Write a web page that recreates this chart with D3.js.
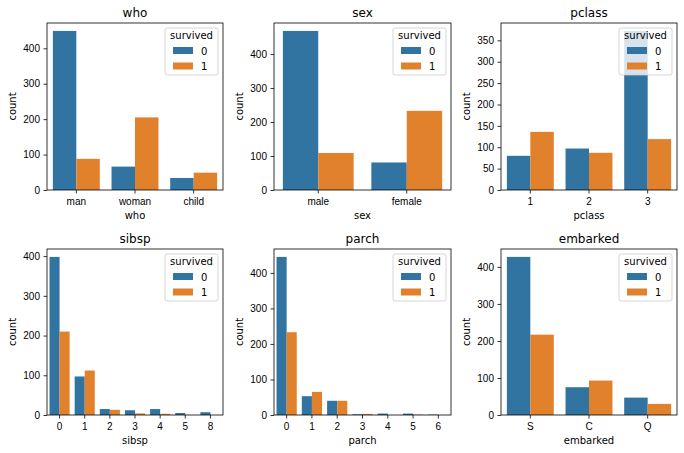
<!DOCTYPE html>
<html>
<head>
<meta charset="utf-8">
<script src="https://cdn.jsdelivr.net/npm/d3@7"></script>
<style>
  body { margin: 0; background: #fff; }
  svg { display: block; font-family: 'DejaVu Sans', sans-serif; }
  .tick text { font-size: 10px; fill: #000; }
  .tick line, .domain { stroke: #000; stroke-width: 0.8; }
</style>
</head>
<body>
<svg width="684" height="453"></svg>
<script>
// titanic counts per feature, split by survived (0 / 1)
const hues = ['0', '1']
const hueColors = ['#3274a1', '#e1812c']

const whoCats = ['man', 'woman', 'child']
const whoDied = [449, 66, 34]
const whoSurv = [88, 205, 49]

const sexCats = ['male', 'female']
const sexDied = [468, 81]
const sexSurv = [109, 233]

const pclassCats = ['1', '2', '3']
const pclassDied = [80, 97, 372]
const pclassSurv = [136, 87, 119]

const sibspCats = ['0', '1', '2', '3', '4', '5', '8']
const sibspDied = [398, 97, 15, 12, 15, 5, 7]
const sibspSurv = [210, 112, 13, 4, 3, 0, 0]

const parchCats = ['0', '1', '2', '3', '4', '5', '6']
const parchDied = [445, 53, 40, 2, 4, 4, 1]
const parchSurv = [233, 65, 40, 3, 0, 1, 0]

const embarkedCats = ['S', 'C', 'Q']
const embarkedDied = [427, 75, 47]
const embarkedSurv = [217, 93, 30]

const ticks400 = [0, 100, 200, 300, 400]
const ticks350 = [0, 50, 100, 150, 200, 250, 300, 350]

const panels = [
  { name: 'who', cats: whoCats, died: whoDied, surv: whoSurv, ticks: ticks400, box: [47, 223, 23, 190] },
  { name: 'sex', cats: sexCats, died: sexDied, surv: sexSurv, ticks: ticks400, box: [274, 451, 23, 190] },
  { name: 'pclass', cats: pclassCats, died: pclassDied, surv: pclassSurv, ticks: ticks350, box: [501, 677, 23, 190] },
  { name: 'sibsp', cats: sibspCats, died: sibspDied, surv: sibspSurv, ticks: ticks400, box: [47, 223, 249, 415] },
  { name: 'parch', cats: parchCats, died: parchDied, surv: parchSurv, ticks: ticks400, box: [274, 451, 249, 415] },
  { name: 'embarked', cats: embarkedCats, died: embarkedDied, surv: embarkedSurv, ticks: ticks400, box: [501, 677, 249, 415] }
]

const svg = d3.select('svg')
svg.append('rect').attr('width', 684).attr('height', 453).attr('fill', '#fff')

const drawPanel = p => {
  const [x0, x1, y0, y1] = p.box
  const g = svg.append('g')

  const rows = p.cats.map((c, i) => ({ cat: c, values: [p.died[i], p.surv[i]] }))
  const maxVal = d3.max(rows, d => d3.max(d.values))

  const xScale = d3.scaleBand()
    .domain(p.cats)
    .range([x0, x1])
    .paddingInner(0.2)
    .paddingOuter(0.1)

  const hueScale = d3.scaleBand()
    .domain(hues)
    .range([0, xScale.bandwidth()])

  const yScale = d3.scaleLinear()
    .domain([0, maxVal * 1.05])
    .range([y1, y0])

  const colorScale = d3.scaleOrdinal().domain(hues).range(hueColors)

  // bars
  const cat = g.selectAll('.cat')
    .data(rows)
    .enter()
    .append('g')
    .attr('transform', d => `translate(${xScale(d.cat)}, 0)`)

  cat.selectAll('rect')
    .data(d => d.values.map((v, j) => ({ hue: hues[j], v })))
    .enter()
    .append('rect')
    .attr('x', d => hueScale(d.hue))
    .attr('y', d => yScale(d.v))
    .attr('width', hueScale.bandwidth())
    .attr('height', d => y1 - yScale(d.v))
    .attr('fill', d => colorScale(d.hue))

  // axes
  const xAxis = d3.axisBottom(xScale).tickSizeOuter(0).tickSize(3.5).tickPadding(3.5)
  const yAxis = d3.axisLeft(yScale).tickValues(p.ticks).tickSizeOuter(0).tickSize(3.5).tickPadding(3.5)

  const xg = g.append('g').attr('transform', `translate(0, ${y1})`).call(xAxis)
  xg.select('.domain').remove()
  xg.selectAll('.tick text').attr('dy', '0.75em').attr('y', 7)

  const yg = g.append('g').attr('transform', `translate(${x0}, 0)`).call(yAxis)
  yg.select('.domain').remove()

  // frame
  g.append('rect')
    .attr('x', x0).attr('y', y0)
    .attr('width', x1 - x0).attr('height', y1 - y0)
    .attr('fill', 'none')
    .attr('stroke', '#000')
    .attr('stroke-width', 0.8)

  // labels
  g.append('text')
    .attr('x', (x0 + x1) / 2)
    .attr('y', y0 - 6)
    .attr('text-anchor', 'middle')
    .style('font-size', '12px')
    .text(p.name)

  g.append('text')
    .attr('x', (x0 + x1) / 2)
    .attr('y', y1 + 28.5)
    .attr('text-anchor', 'middle')
    .style('font-size', '10px')
    .text(p.name)

  g.append('text')
    .attr('transform', `translate(${x0 - 31}, ${(y0 + y1) / 2}) rotate(-90)`)
    .attr('text-anchor', 'middle')
    .style('font-size', '10px')
    .text('count')

  // legend
  const lw = 53
  const lh = 47
  const lx = x1 - 5 - lw
  const ly = y0 + 5
  const lg = g.append('g').attr('transform', `translate(${lx}, ${ly})`)
  lg.append('rect')
    .attr('width', lw).attr('height', lh)
    .attr('rx', 2)
    .attr('fill', '#fff')
    .attr('fill-opacity', 0.8)
    .attr('stroke', '#cccccc')
    .attr('stroke-width', 0.8)
  lg.append('text')
    .attr('x', lw / 2)
    .attr('y', 11)
    .attr('text-anchor', 'middle')
    .style('font-size', '10px')
    .text('survived')
  hues.forEach((h, j) => {
    lg.append('rect')
      .attr('x', 8)
      .attr('y', 19 + j * 15.5)
      .attr('width', 20)
      .attr('height', 7)
      .attr('fill', colorScale(h))
    lg.append('text')
      .attr('x', 36)
      .attr('y', 26.5 + j * 15.5)
      .style('font-size', '10px')
      .text(h)
  })
}

panels.forEach(drawPanel)
</script>
</body>
</html>
